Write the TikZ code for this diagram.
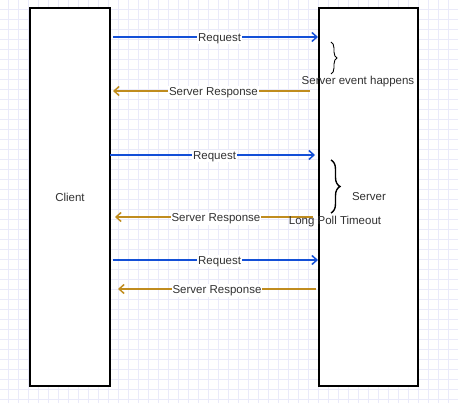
\documentclass[tikz,border=0pt]{standalone}
\usepackage{fontspec}
\setmainfont{Liberation Sans}
\usetikzlibrary{arrows.meta,decorations.pathreplacing}
\definecolor{gridc}{RGB}{234,234,250}
\definecolor{reqc}{RGB}{20,80,215}
\definecolor{resc}{RGB}{192,140,30}
\definecolor{txtc}{RGB}{50,50,50}
\tikzset{
  lifebox/.style={draw=black,line width=1.5pt,fill=white,inner sep=0pt,text=txtc},
  reqarrow/.style={draw=reqc,line width=1.5pt,-{Straight Barb[length=5pt,width=9pt,line width=1.5pt]}},
  resarrow/.style={draw=resc,line width=1.5pt,-{Straight Barb[length=5pt,width=9pt,line width=1.5pt]}},
  lbl/.style={fill=white,inner xsep=1pt,inner ysep=1pt,yshift=-1.3pt,text=txtc,font=\fontsize{11.5}{13}\selectfont},
  note/.style={text=txtc,inner sep=0pt,font=\fontsize{11.5}{13}\selectfont},
  bracec/.style={draw=black,line width=0.9pt,decorate}
}
\begin{document}
\begin{tikzpicture}[x=1pt,y=-1pt,font=\fontsize{11.5}{13}\selectfont]
\useasboundingbox (0,0) rectangle (458,403);
\fill[white] (0,0) rectangle (458,403);
\foreach \gx in {8,18,...,458} \draw[gridc,line width=0.8pt] (\gx,0) -- (\gx,403);
\foreach \gy in {9,19,...,403} \draw[gridc,line width=0.8pt] (0,\gy) -- (458,\gy);

\node[lifebox,minimum width=80pt,minimum height=378pt] (client) at (70,197) {Client};
\node[lifebox,minimum width=99pt,minimum height=378pt] (server) at (368.5,197) {};
\node[note] (servertxt) at (369,197) {Server};

% arrow endpoints
\coordinate (c1) at (113,37);  \coordinate (s1) at (318,37);
\coordinate (s2) at (310,91);  \coordinate (c2) at (113,91);
\coordinate (c3) at (110,155); \coordinate (s3) at (315,155);
\coordinate (s4) at (313,217); \coordinate (c4) at (115,217);
\coordinate (c5) at (113,260); \coordinate (s5) at (318,260);
\coordinate (s6) at (316,289); \coordinate (c6) at (118,289);

\draw[reqarrow] (c1) -- node[lbl,pos=0.52] (l1) {Request} (s1);
\draw[resarrow] (s2) -- node[lbl,pos=0.49] (l2) {Server Response} (c2);
\draw[reqarrow] (c3) -- node[lbl,pos=0.51] (l3) {Request} (s3);
\draw[resarrow] (s4) -- node[lbl,pos=0.49] (l4) {Server Response} (c4);
\draw[reqarrow] (c5) -- node[lbl,pos=0.52] (l5) {Request} (s5);
\draw[resarrow] (s6) -- node[lbl,pos=0.5] (l6) {Server Response} (c6);

% braces
\coordinate (b1t) at (331,42); \coordinate (b1b) at (331,74);
\draw[bracec,decoration={brace,amplitude=6pt}] (b1t) -- (b1b);
\node[note] (n1) at (358,81.5) {Server event happens};
\coordinate (b2t) at (331,160); \coordinate (b2b) at (331,213);
\draw[bracec,line width=1.4pt,decoration={brace,amplitude=9pt}] (b2t) -- (b2b);
\node[note] (n2) at (335,221.5) {Long Poll Timeout};
\end{tikzpicture}
\end{document}
